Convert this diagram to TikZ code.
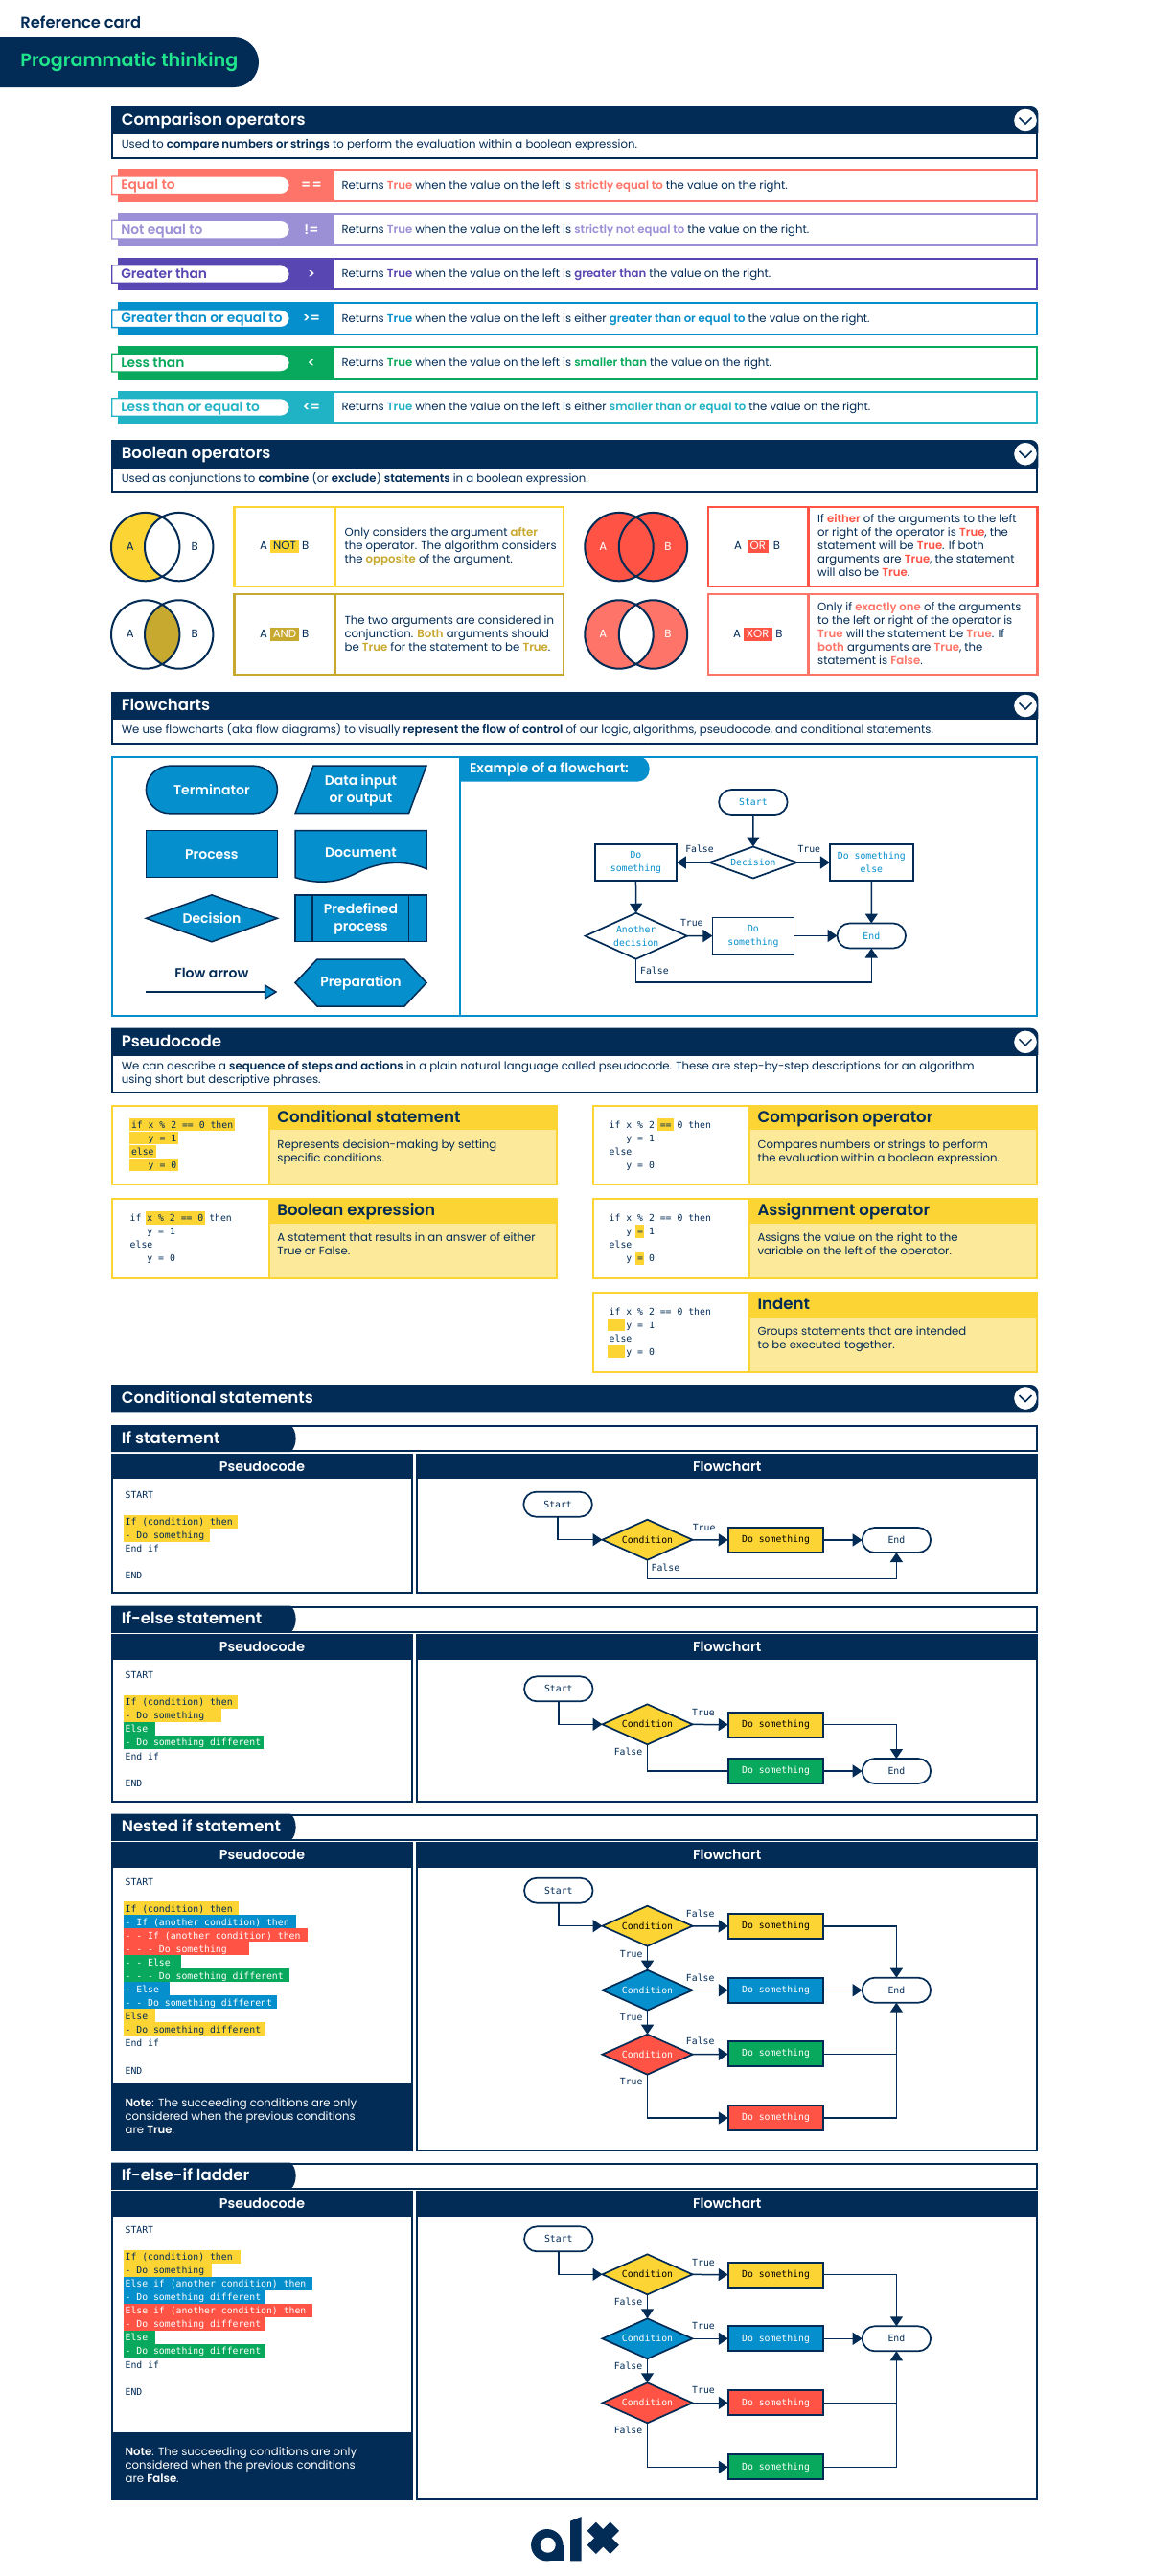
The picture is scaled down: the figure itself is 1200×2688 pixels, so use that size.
\documentclass[tikz,border=0pt]{standalone}
\usepackage{fontspec}
\setmainfont{Poppins}[BoldFont={Poppins SemiBold}]
\newfontfamily\codefam{DejaVu Sans Mono}
\usetikzlibrary{shapes.geometric,shapes.misc,arrows.meta,calc}
\definecolor{navy}{HTML}{022B55}
\definecolor{cgreen}{HTML}{1FE58C}
\definecolor{ccoral}{HTML}{FF7468}
\definecolor{clilac}{HTML}{9B8FD6}
\definecolor{cpurple}{HTML}{5846B2}
\definecolor{cblue}{HTML}{058FCC}
\definecolor{cgrn}{HTML}{08A95C}
\definecolor{cteal}{HTML}{20B2C5}
\definecolor{cyel}{HTML}{FCD434}
\definecolor{cgold}{HTML}{C8A92F}
\definecolor{cred}{HTML}{FF5345}
\definecolor{cpale}{HTML}{FDE99A}
\newcommand\fsz[1]{\fontsize{#1}{14}\selectfont}
\newcommand\code{\codefam\fontsize{9.8}{14}\selectfont}
\newcommand\desc{\fsz{11.7}}
\newcommand\K[1]{\textbf{\textcolor{\cur}{#1}}}
\newcount\tn
\tikzset{
  x=1pt,y=-1pt,
  txt/.style={anchor=base west,inner sep=0,outer sep=0,text=navy,font=\desc},
  ctxt/.style={txt,anchor=base},
  para/.style={anchor=north west,inner sep=0,outer sep=0,text=navy,align=left,font=\desc},
  fline/.style={navy,line width=1.5},
  flow/.style={navy,line width=1.5,-{Triangle[length=10,width=13]}},
  fterm/.style={rounded rectangle,draw=navy,fill=white,line width=1.7,minimum width=71.5,minimum height=26,inner sep=0,outer sep=0,font=\code,text=navy},
  fbox/.style={rectangle,draw=navy,line width=1.7,minimum width=99.5,minimum height=26,inner sep=0,outer sep=0,font=\code},
  fdec/.style={diamond,shape aspect=2.2,draw=navy,line width=1.7,minimum width=94,minimum height=42,inner sep=0,outer sep=0,font=\code},
  flab/.style={ctxt,font=\code},
  shp/.style={draw=navy,fill=cblue,line width=1.5},
  shpt/.style={ctxt,text=white,font=\bfseries\fsz{14},yshift=-1pt},
  pill/.style={rounded rectangle,rounded rectangle west arc=none,fill=white,line width=1.3,minimum width=185.5,minimum height=18.6,inner sep=0,outer sep=0,anchor=west},
}
% text line, vertically centred on y
\newcommand\T[4][]{\global\advance\tn by 1\node[txt,#1] (t\the\tn) at ({#2},{#3+3.7}) {#4};}
\newcommand\CT[4][]{\global\advance\tn by 1\node[ctxt,#1] (t\the\tn) at ({#2},{#3+3.7}) {#4};}
% paragraph, y = centre of first line
\newcommand\Para[3]{\global\advance\tn by 1\node[para] (t\the\tn) at ({#1},{#2-6.1}) {\strut #3};}
% section header: name, top, header bottom, bottom, title
\newcommand\sect[5]{%
  \draw[navy,line width=2,fill=white] (117,#3) rectangle (1082.4,#4);
  \fill[navy] (116,#3) -- (116,#2-1) [rounded corners=8] -- (1083.4,#2-1) [sharp corners] -- (1083.4,#3) -- cycle;
  \T[font=\bfseries\fsz{16.6},text=white,yshift=-1.3pt]{126.8}{(#2+#3)/2}{#5}
  \node[circle,fill=white,draw=navy,line width=1.2,minimum size=25,inner sep=0] (#1c) at (1070,{(#2+#3)/2}) {};
  \draw[navy,line width=1.5] ([shift={(-6.5,-3)}]#1c.center) -- ([shift={(0,3.5)}]#1c.center) -- ([shift={(6.5,-3)}]#1c.center);
}
% comparison row
\newcommand\comprow[6]{%
  \def\cur{#2}
  \fill[#2] (123,#1) rectangle (348,#1+34.7);
  \draw[#2,line width=2,fill=white] (348,#1+1) rectangle (1082.4,#1+33.7);
  \node[pill,draw=#2] (#3) at (116.8,#1+17.3) {};
  \T[font=\bfseries\fsz{13.8},text=#2,yshift=-.7pt]{126.3}{#1+17.3}{#4}
  \CT[font=\bfseries\fsz{13.8},text=white,yshift=-.7pt]{325}{#1+17.3}{#5}
  \T{356.6}{#1+17.3}{#6}
}
% boolean box: x left, x divider, x right, top, bottom, colour
\newcommand\boolbox[6]{%
  \draw[#6,line width=2.5,fill=white] (#1+1,#4+1) rectangle (#3-1,#5-1);
  \draw[#6,line width=2.5] (#2,#4) -- (#2,#5);
}
% A op B
\newcommand\opnode[7]{% xA, xop-left, xop-right, xB, y, fill, op
  \CT{#1}{#5}{A}
  \fill[#6] (#2,#5-7) rectangle (#3,#5+7);
  \CT[text=#7]{(#2+#3)/2}{#5}{\OPT}
  \CT{#4}{#5}{B}
}
% yellow card
\newcommand\card[6]{% xl, xd, xr, top, title, body
  \fill[cyel] (#1,#4) rectangle (#3,#4+84.7);
  \fill[white] (#1+2,#4+2) rectangle (#2,#4+82.7);
  \fill[cpale] (#2+2,#4+26.6) rectangle (#3-2,#4+82.7);
  \T[font=\bfseries\fsz{16.6},yshift=-1.3pt]{#2+9.6}{#4+13.4}{#5}
  \Para{#2+9.6}{#4+41.6}{#6}
}
\newcommand\hl[3]{\fill[cyel] (#1,#2-6.8) rectangle (#3,#2+6.8);}
\newcommand\cardcode[2]{% x, first y
  \T[font=\code]{#1}{#2}{if x \% 2 == 0 then}
  \T[font=\code]{#1+17.7}{#2+14}{y = 1}
  \T[font=\code]{#1}{#2+28}{else}
  \T[font=\code]{#1+17.7}{#2+42}{y = 0}
}
% sub-statement bar
\newcommand\subbar[2]{%
  \draw[navy,line width=2,fill=white] (117,#1) rectangle (1082.4,#1+26);
  \fill[navy] (116,#1-1) -- (303,#1-1) .. controls (310.5,#1+5) and (310.5,#1+21) .. (303,#1+27) -- (116,#1+27) -- cycle;
  \T[font=\bfseries\fsz{16.6},text=white,yshift=-1.3pt]{126.8}{#1+13}{#2}
}
% panels: top, header bottom, bottom
\newcommand\panels[3]{%
  \draw[navy,line width=2,fill=white] (117,#1) rectangle (430,#3);
  \draw[navy,line width=2,fill=white] (435.2,#1) rectangle (1082.4,#3);
  \fill[navy] (116,#1-1) rectangle (431,#2);
  \fill[navy] (434.2,#1-1) rectangle (1083.4,#2);
  \CT[font=\bfseries\fsz{14.2},text=white,yshift=-1pt]{273.5}{(#1+#2)/2}{Pseudocode}
  \CT[font=\bfseries\fsz{14.2},text=white,yshift=-1pt]{758.8}{(#1+#2)/2}{Flowchart}
}
\newcommand\cl[5]{% y, x right, bg, fg, text
  \fill[#3] (128.7,#1-7) rectangle (#2,#1+7);
  \T[font=\code,text=#4]{130.6}{#1}{#5}
}
\newcommand\pl[2]{\T[font=\code]{130.6}{#1}{#2}}
\newcommand\notebox[3]{% top, bottom, y
  \fill[navy] (116,#1) rectangle (431,#2);
  \global\advance\tn by 1
  \node[para,text=white] (t\the\tn) at (130.6,#1+20.3-6.1) {\strut\textbf{Note}: The succeeding conditions are only\\considered when the previous conditions\\are \textbf{#3}.};
}
\begin{document}
\begin{tikzpicture}
\useasboundingbox (0,0) rectangle (1200,2688);
\fill[white] (0,0) rectangle (1200,2688);
% ---------- title
\T[font=\bfseries\fsz{16.3},yshift=-1.3pt]{21.4}{24}{Reference card}
\node[rounded rectangle,rounded rectangle west arc=none,fill=navy,minimum width=270,minimum height=52,inner sep=0,outer sep=0,anchor=west] (titletab) at (0,65) {};
\T[font=\bfseries\fsz{19.1},text=cgreen,yshift=-1.5pt]{21.4}{64}{Programmatic thinking}
% ---------- comparison operators
\sect{s1}{112}{139}{165}{Comparison operators}
\def\cur{navy}
\T{126.8}{151}{Used to \textbf{compare numbers or strings} to perform the evaluation within a boolean expression.}
\comprow{176}{ccoral}{p1}{Equal to}{=\kern1.2pt=}{Returns \K{True} when the value on the left is \K{strictly equal to} the value on the right.}
\comprow{222.3}{clilac}{p2}{Not equal to}{!=}{Returns \K{True} when the value on the left is \K{strictly not equal to} the value on the right.}
\comprow{268.7}{cpurple}{p3}{Greater than}{>}{Returns \K{True} when the value on the left is \K{greater than} the value on the right.}
\comprow{315}{cblue}{p4}{Greater than or equal to}{>=}{Returns \K{True} when the value on the left is either \K{greater than or equal to} the value on the right.}
\comprow{361.3}{cgrn}{p5}{Less than}{<}{Returns \K{True} when the value on the left is \K{smaller than} the value on the right.}
\comprow{407.7}{cteal}{p6}{Less than or equal to}{<=}{Returns \K{True} when the value on the left is either \K{smaller than or equal to} the value on the right.}
% ---------- boolean operators
\sect{s2}{460}{487.5}{513}{Boolean operators}
\T{126.8}{499.5}{Used as conjunctions to \textbf{combine} (or \textbf{exclude}) \textbf{statements} in a boolean expression.}
% venn NOT
\fill[cyel] (151.7,570.6) circle[radius=35.7];
\fill[white] (186.7,570.6) circle[radius=35.7];
\draw[navy,line width=2] (151.7,570.6) circle[radius=35.7] (186.7,570.6) circle[radius=35.7];
\CT{135.7}{570.6}{A}\CT{203.3}{570.6}{B}
% venn AND
\begin{scope}
\clip (151.7,662) circle[radius=35.7];
\fill[cgold] (186.7,662) circle[radius=35.7];
\end{scope}
\draw[navy,line width=2] (151.7,662) circle[radius=35.7] (186.7,662) circle[radius=35.7];
\CT{135.7}{662}{A}\CT{203.3}{662}{B}
% venn OR
\fill[cred] (646,570.6) circle[radius=35.7] (681.5,570.6) circle[radius=35.7];
\draw[navy,line width=2] (646,570.6) circle[radius=35.7] (681.5,570.6) circle[radius=35.7];
\CT[text=white]{629.3}{570.6}{A}\CT[text=white]{697}{570.6}{B}
% venn XOR
\fill[ccoral] (646,662) circle[radius=35.7] (681.5,662) circle[radius=35.7];
\begin{scope}
\clip (646,662) circle[radius=35.7];
\fill[white] (681.5,662) circle[radius=35.7];
\end{scope}
\draw[navy,line width=2] (646,662) circle[radius=35.7] (681.5,662) circle[radius=35.7];
\CT[text=white]{629.3}{662}{A}\CT[text=white]{697}{662}{B}
% boxes
\boolbox{243.5}{349.4}{589}{528}{613}{cyel}
\def\OPT{NOT}\opnode{275}{282.4}{311.7}{318.7}{570}{cyel}{navy}
\def\cur{cgold}
\Para{359.6}{556}{Only considers the argument \K{after}\\the operator. The algorithm considers\\the \K{opposite} of the argument.}
\boolbox{243.5}{349.4}{589}{619}{705}{cgold}
\def\OPT{AND}\opnode{275}{282.4}{311.7}{318.7}{661.5}{cgold}{white}
\Para{359.6}{647.3}{The two arguments are considered in\\conjunction. \K{Both} arguments should\\be \K{True} for the statement to be \K{True}.}
\boolbox{737.8}{843.6}{1083.4}{528}{613}{cred}
\def\OPT{OR}\opnode{770}{780}{801.5}{810.5}{570}{cred}{white}
\def\cur{cred}
\Para{853.2}{541.7}{If \K{either} of the arguments to the left\\or right of the operator is \K{True}, the\\statement will be \K{True}. If both\\arguments are \K{True}, the statement\\will also be \K{True}.}
\boolbox{737.8}{843.6}{1083.4}{619}{705}{ccoral}
\def\OPT{XOR}\opnode{769}{776}{805.5}{813}{661.5}{cred}{white}
\def\cur{ccoral}
\Para{853.2}{633.3}{Only if \K{exactly one} of the arguments\\to the left or right of the operator is\\\K{True} will the statement be \K{True}. If\\\K{both} arguments are \K{True}, the\\statement is \K{False}.}
% ---------- flowcharts
\sect{s3}{723}{750}{776}{Flowcharts}
\T{126.8}{762}{We use flowcharts (aka flow diagrams) to visually \textbf{represent the flow of control} of our logic, algorithms, pseudocode, and conditional statements.}
\draw[cblue,line width=2,fill=white] (117,790) rectangle (1082.4,1059.5);
\draw[cblue,line width=2] (480,789) -- (480,1060);
\fill[cblue] (480,815.7) -- (480,789) [rounded corners=13] -- (677.7,789) -- (677.7,815.7) -- (480,815.7);
\T[font=\bfseries\fsz{14},text=white,yshift=-1pt]{490}{801.7}{Example of a flowchart:}
% legend shapes
\node[rounded rectangle,shp,minimum width=137,minimum height=49.7,inner sep=0,outer sep=0,font=\bfseries\fsz{14},text=white] (lterm) at (220.9,824) {Terminator};
\draw[shp] (327,799) -- (445,799) -- (426.5,848.7) -- (308,848.7) -- cycle;
\CT[shpt]{376.5}{815}{Data input}\CT[shpt]{376.5}{832.3}{or output}
\node[rectangle,shp,minimum width=137,minimum height=49,inner sep=0,outer sep=0,font=\bfseries\fsz{14},text=white] (lproc) at (220.9,891.2) {Process};
\draw[shp] (308,866.7) -- (445,866.7) -- (445,906.7) .. controls (420,896) and (395,900) .. (374,910) .. controls (355,920) and (335,924) .. (308,915.7) -- cycle;
\CT[shpt]{376.5}{890}{Document}
\node[diamond,shape aspect=2.8,shp,minimum width=137,minimum height=49,inner sep=0,outer sep=0,font=\bfseries\fsz{14},text=white] (ldec) at (220.9,958.3) {Decision};
\draw[shp] (308,934) rectangle (445,982.7);
\draw[navy,line width=1.5] (325.8,934) -- (325.8,982.7) (426.5,934) -- (426.5,982.7);
\CT[shpt]{376.5}{949}{Predefined}\CT[shpt]{376.5}{966.3}{process}
\CT[font=\bfseries\fsz{14},yshift=-1pt]{220.9}{1016}{Flow arrow}
\coordinate (fa1) at (152.3,1035);\coordinate (fa2) at (289.4,1035);
\draw[navy,line width=1.5,-{Triangle[length=13.5,width=16,fill=cblue]}] (fa1) -- (fa2);
\draw[shp] (330.9,1001) -- (422,1001) -- (445,1025.5) -- (422,1050) -- (330.9,1050) -- (308,1025.5) -- cycle;
\CT[shpt]{376.5}{1024.7}{Preparation}
% example flowchart
\node[fterm,text=cblue] (es) at (785.9,837) {Start};
\node[fdec,shape aspect=2.76,minimum width=91.2,minimum height=33,fill=white,text=cblue] (ed) at (785.9,900) {Decision};
\node[fbox,minimum width=85,minimum height=38.3,fill=white,text=cblue,align=center] (el) at (663.4,900) {Do\\something};
\node[fbox,minimum width=86.7,minimum height=38.3,fill=white,text=cblue,align=center] (er) at (909.3,900) {Do something\\else};
\node[fdec,minimum width=106,minimum height=48,fill=white,text=cblue,align=center] (ea) at (663.7,976.7) {};
\CT[font=\code,text=cblue]{663.7}{969.5}{Another}\CT[font=\code,text=cblue]{663.7}{983.5}{decision}
\node[fbox,minimum width=85,minimum height=38.3,fill=white,text=cblue,align=center] (eb) at (785.9,976.5) {Do\\something};
\node[fterm,text=cblue] (ee) at (909.3,976.5) {End};
\coordinate (ef) at (909.3,1025);
\draw[flow] (es) -- (ed);
\draw[flow] (ed) -- (el);
\draw[flow] (ed) -- (er);
\draw[flow] (el) -- (ea);
\draw[flow] (ea) -- (eb);
\draw[flow] (eb) -- (ee);
\draw[flow] (er) -- (ee);
\draw[flow] (ea.south) |- (ef) -- (ee.south);
\CT[flab]{730}{886}{False}\CT[flab]{844.3}{886}{True}\CT[flab]{721.8}{963}{True}\CT[flab]{682.9}{1012.7}{False}
% ---------- pseudocode
\sect{s4}{1073.7}{1101}{1140}{Pseudocode}
\Para{126.8}{1112.7}{We can describe a \textbf{sequence of steps and actions} in a plain natural language called pseudocode. These are step-by-step descriptions for an algorithm\\using short but descriptive phrases.}
\card{116}{279.8}{582}{1152.7}{Conditional statement}{Represents decision-making by setting\\specific conditions.}
\hl{135}{1173.3}{245.4}\hl{135}{1187.3}{186}\hl{135}{1201.3}{162.5}\hl{135}{1215.3}{186}
\cardcode{137}{1173.3}
\card{617.9}{781}{1083.4}{1152.7}{Comparison operator}{Compares numbers or strings to perform\\the evaluation within a boolean expression.}
\hl{685.5}{1173.3}{703.3}
\cardcode{635.7}{1173.3}
\card{116}{279.8}{582}{1250.3}{Boolean expression}{A statement that results in an answer of either\\True or False.}
\hl{152.3}{1270.7}{213.5}
\cardcode{135.7}{1270.7}
\card{617.9}{781}{1083.4}{1250.3}{Assignment operator}{Assigns the value on the right to the\\variable on the left of the operator.}
\hl{662.5}{1284.7}{672}\hl{662.5}{1312.7}{672}
\cardcode{635.7}{1270.7}
\card{617.9}{781}{1083.4}{1348}{Indent}{Groups statements that are intended\\to be executed together.}
\hl{633.8}{1382.3}{652.3}\hl{633.8}{1410.3}{652.3}
\cardcode{635.7}{1368.3}
% ---------- conditional statements
\fill[navy] (116,1473.3) -- (116,1445) [rounded corners=8] -- (1083.4,1445) -- (1083.4,1473.3) [sharp corners] -- cycle;
\T[font=\bfseries\fsz{16.6},text=white,yshift=-1.3pt]{126.8}{1459}{Conditional statements}
\node[circle,fill=white,draw=navy,line width=1.2,minimum size=25,inner sep=0] (s5c) at (1070,1459) {};
\draw[navy,line width=1.5] ([shift={(-6.5,-3)}]s5c.center) -- ([shift={(0,3.5)}]s5c.center) -- ([shift={(6.5,-3)}]s5c.center);
% --- if
\subbar{1488}{If statement}
\panels{1517.7}{1543.3}{1662}
\pl{1560}{START}
\cl{1588}{248}{cyel}{navy}{If (condition) then}
\cl{1602}{218.6}{cyel}{navy}{- Do something}
\pl{1616}{End if}
\pl{1644}{END}
\node[fterm] (as) at (582.1,1569.7) {Start};
\node[fdec,fill=cyel] (ad) at (675.5,1606.7) {Condition};
\node[fbox,fill=cyel] (ab) at (809.5,1607) {Do something};
\node[fterm] (ae) at (935.4,1607) {End};
\coordinate (af) at (935.4,1647.7);
\draw[flow] (as.south) |- (ad.west);
\draw[flow] (ad) -- (ab);
\draw[flow] (ab) -- (ae);
\draw[flow] (ad.south) |- (af) -- (ae.south);
\CT[flab]{734.6}{1593.7}{True}\CT[flab]{694.4}{1635.7}{False}
% --- if else
\subbar{1676.5}{If-else statement}
\panels{1706}{1731.7}{1879.5}
\pl{1747.7}{START}
\cl{1776}{248}{cyel}{navy}{If (condition) then}
\cl{1790}{230.7}{cyel}{navy}{- Do something}
\cl{1804}{161.9}{cgrn}{white}{Else}
\cl{1818}{275.4}{cgrn}{white}{- Do something different}
\pl{1832.3}{End if}
\pl{1860.3}{END}
\node[fterm] (bs) at (582.8,1762.3) {Start};
\node[fdec,fill=cyel] (bd) at (675.5,1799.3) {Condition};
\node[fbox,fill=cyel] (by) at (809.5,1799.7) {Do something};
\node[fbox,fill=cgrn,text=white] (bg) at (809.5,1848) {Do something};
\node[fterm] (be) at (935.4,1848) {End};
\draw[flow] (bs.south) |- (bd.west);
\draw[flow] (bd) -- (by);
\draw[flow] (by.east) -| (be.north);
\draw[fline] (bd.south) |- (bg.west);
\draw[flow] (bg) -- (be);
\CT[flab]{734}{1786.3}{True}\CT[flab]{655.5}{1828}{False}
% --- nested
\subbar{1893.5}{Nested if statement}
\panels{1923.3}{1949}{2243.5}
\pl{1963.3}{START}
\cl{1991.3}{249.2}{cyel}{navy}{If (condition) then}
\cl{2005.3}{308.5}{cblue}{white}{- If (another condition) then}
\cl{2019.3}{320.7}{cred}{white}{- - If (another condition) then}
\cl{2033.3}{260}{cred}{white}{- - - Do something}
\cl{2047.3}{189.3}{cgrn}{white}{- - Else}
\cl{2061.3}{301.5}{cgrn}{white}{- - - Do something different}
\cl{2075.3}{177.2}{cblue}{white}{- Else}
\cl{2089.3}{289.4}{cblue}{white}{- - Do something different}
\cl{2103.3}{161.9}{cyel}{navy}{Else}
\cl{2117.3}{277.3}{cyel}{navy}{- Do something different}
\pl{2131.7}{End if}
\pl{2160.3}{END}
\notebox{2174.3}{2244}{True}
\node[fterm] (cs) at (582.8,1972.7) {Start};
\node[fdec,fill=cyel] (cd1) at (675.5,2009.7) {Condition};
\node[fdec,fill=cblue,text=white] (cd2) at (675.5,2076.7) {Condition};
\node[fdec,fill=cred,text=white] (cd3) at (675.5,2143.7) {Condition};
\node[fbox,fill=cyel] (cb1) at (809.5,2010) {Do something};
\node[fbox,fill=cblue,text=white] (cb2) at (809.5,2076.7) {Do something};
\node[fbox,fill=cgrn,text=white] (cb3) at (809.5,2143.3) {Do something};
\node[fbox,fill=cred,text=white] (cb4) at (809.5,2210) {Do something};
\node[fterm] (ce) at (935.4,2076.7) {End};
\draw[flow] (cs.south) |- (cd1.west);
\draw[flow] (cd1) -- (cb1);
\draw[flow] (cd2) -- (cb2);
\draw[flow] (cd3) -- (cb3);
\draw[flow] (cd1) -- (cd2);
\draw[flow] (cd2) -- (cd3);
\draw[flow] (cd3.south) |- (cb4.west);
\draw[flow] (cb1.east) -| (ce.north);
\draw[flow] (cb2) -- (ce);
\draw[fline] (cb3.east) -- (cb3.east -| ce.south);
\draw[flow] (cb4.east) -| (ce.south);
\CT[flab]{730.7}{1996.3}{False}\CT[flab]{730.7}{2063.3}{False}\CT[flab]{730.7}{2130}{False}
\CT[flab]{658.7}{2038.3}{True}\CT[flab]{658.7}{2105}{True}\CT[flab]{658.7}{2171.7}{True}
% --- ladder
\subbar{2257.5}{If-else-if ladder}
\panels{2287}{2312.7}{2607.5}
\pl{2327}{START}
\cl{2355}{250.5}{cyel}{navy}{If (condition) then}
\cl{2369}{221.2}{cyel}{navy}{- Do something}
\cl{2383}{325.8}{cblue}{white}{Else if (another condition) then}
\cl{2397}{276.7}{cblue}{white}{- Do something different}
\cl{2411}{325.8}{cred}{white}{Else if (another condition) then}
\cl{2425}{276.7}{cred}{white}{- Do something different}
\cl{2439}{161.9}{cgrn}{white}{Else}
\cl{2453}{276.7}{cgrn}{white}{- Do something different}
\pl{2468}{End if}
\pl{2496}{END}
\notebox{2538.3}{2608}{False}
\node[fterm] (ds) at (582.8,2336.3) {Start};
\node[fdec,fill=cyel] (dd1) at (675.5,2373.3) {Condition};
\node[fdec,fill=cblue,text=white] (dd2) at (675.5,2440.3) {Condition};
\node[fdec,fill=cred,text=white] (dd3) at (675.5,2507.3) {Condition};
\node[fbox,fill=cyel] (db1) at (809.5,2373.7) {Do something};
\node[fbox,fill=cblue,text=white] (db2) at (809.5,2440.3) {Do something};
\node[fbox,fill=cred,text=white] (db3) at (809.5,2507.3) {Do something};
\node[fbox,fill=cgrn,text=white] (db4) at (809.5,2574.3) {Do something};
\node[fterm] (de) at (935.4,2440.3) {End};
\draw[flow] (ds.south) |- (dd1.west);
\draw[flow] (dd1) -- (db1);
\draw[flow] (dd2) -- (db2);
\draw[flow] (dd3) -- (db3);
\draw[flow] (dd1) -- (dd2);
\draw[flow] (dd2) -- (dd3);
\draw[flow] (dd3.south) |- (db4.west);
\draw[flow] (db1.east) -| (de.north);
\draw[flow] (db2) -- (de);
\draw[fline] (db3.east) -- (db3.east -| de.south);
\draw[flow] (db4.east) -| (de.south);
\CT[flab]{734}{2360.3}{True}\CT[flab]{734}{2427}{True}\CT[flab]{734}{2493.7}{True}
\CT[flab]{655.5}{2402}{False}\CT[flab]{655.5}{2468.7}{False}\CT[flab]{655.5}{2535.7}{False}
% ---------- logo
\fill[navy] (570.8,2655.7) circle[radius=16.7];
\fill[navy] (570.8,2655.7) rectangle (587.7,2672.3);
\fill[white] (571.7,2655.7) circle[radius=8];
\fill[navy] (595,2630.7) -- (606.7,2626) -- (606.7,2672.3) -- (595,2672.3) -- cycle;
\fill[navy,rotate around={45:(629.3,2648.3)}] (612.3,2641.8) rectangle (646.3,2654.8);
\fill[navy,rotate around={-45:(629.3,2648.3)}] (612.3,2641.8) rectangle (646.3,2654.8);
\end{tikzpicture}
\end{document}
